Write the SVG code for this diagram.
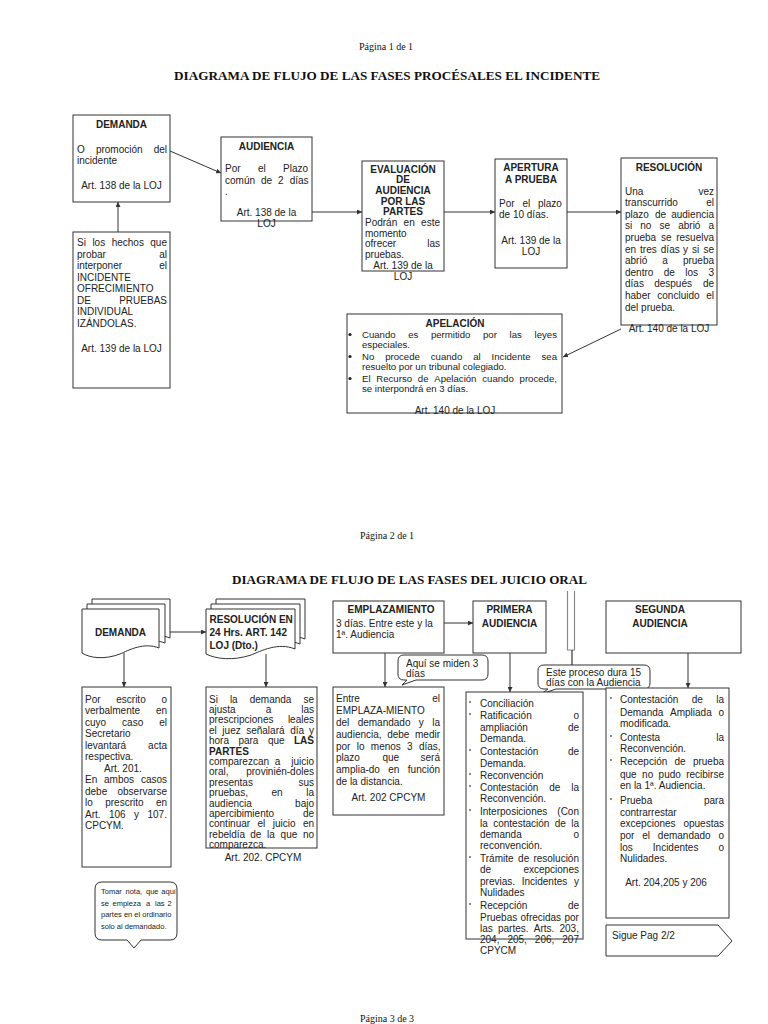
<svg xmlns="http://www.w3.org/2000/svg" width="768" height="1024" viewBox="0 0 768 1024">
<style>
.t{font-family:"Liberation Sans",Arial,sans-serif;font-size:10px;fill:#222}
.b{font-weight:bold}
.c{text-anchor:middle}
.ap{font-size:9.6px}
.nt{font-size:7.5px}
.box{fill:#fff;stroke:#333;stroke-width:1}
.ln{stroke:#333;stroke-width:1;fill:none}
.ttl{font-family:"Liberation Serif","Times New Roman",serif;font-weight:bold;font-size:13px;fill:#111}
.pg{font-family:"Liberation Serif","Times New Roman",serif;font-size:10px;fill:#111}
</style>
<defs>
<marker id="ah" viewBox="0 0 8 8" refX="8" refY="4" markerWidth="5" markerHeight="5" orient="auto" markerUnits="userSpaceOnUse"><path d="M0,0 L8,4 L0,8 z" fill="#333"/></marker>
</defs>
<rect width="768" height="1024" fill="#fff"/>

<text class="pg c" x="386" y="50">Página 1 de 1</text>
<text class="ttl" x="174" y="80" textLength="426" lengthAdjust="spacingAndGlyphs">DIAGRAMA DE FLUJO DE LAS FASES PROCÉSALES EL INCIDENTE</text>

<g id="connectors">
<line class="ln" x1="170" y1="151" x2="221" y2="173" marker-end="url(#ah)"/>
<line class="ln" x1="118" y1="232" x2="118" y2="202" marker-end="url(#ah)"/>
<line class="ln" x1="312" y1="212" x2="362" y2="212" marker-end="url(#ah)"/>
<line class="ln" x1="444" y1="212" x2="495" y2="212" marker-end="url(#ah)"/>
<line class="ln" x1="567" y1="212" x2="621" y2="212" marker-end="url(#ah)"/>
<line class="ln" x1="621" y1="329" x2="563" y2="357" marker-end="url(#ah)"/>
<line class="ln" x1="170" y1="632" x2="206" y2="632" marker-end="url(#ah)"/>
<line class="ln" x1="124" y1="653" x2="124" y2="687" marker-end="url(#ah)"/>
<line class="ln" x1="266" y1="654" x2="266" y2="687" marker-end="url(#ah)"/>
<line class="ln" x1="444" y1="623" x2="473" y2="623" marker-end="url(#ah)"/>
<line class="ln" x1="385" y1="653" x2="385" y2="687" marker-end="url(#ah)"/>
<line class="ln" x1="510" y1="653" x2="510" y2="692" marker-end="url(#ah)"/>
<line class="ln" x1="688" y1="653" x2="688" y2="688" marker-end="url(#ah)"/>
<line x1="567.5" y1="591" x2="567.5" y2="650" stroke="#888" stroke-width="1.2"/>
<line x1="574.5" y1="591" x2="574.5" y2="650" stroke="#888" stroke-width="1.2"/>
<line x1="567" y1="650" x2="575" y2="650" stroke="#888" stroke-width="1"/>
<line x1="572" y1="650" x2="572" y2="665" stroke="#333" stroke-width="1.2"/>
</g>

<g id="demanda1">
<rect class="box" x="73" y="115" width="97" height="87"/>
<text class="t b c" x="121.5" y="127.5">DEMANDA</text>
<text class="t" y="152.5"><tspan x="77">O</tspan><tspan x="95.9">promoción</tspan><tspan x="153.7">del</tspan></text>
<text class="t" x="77" y="163.5">incidente</text>
<text class="t c" x="121.5" y="188.5">Art. 138 de la LOJ</text>
</g>

<g id="hechos">
<rect class="box" x="73" y="232" width="97" height="156"/>
<text class="t" y="246"><tspan x="77">Si</tspan><tspan x="92.4">los</tspan><tspan x="111.7">hechos</tspan><tspan x="150.3">que</tspan></text>
<text class="t" y="257.5"><tspan x="77">probar</tspan><tspan x="159.2">al</tspan></text>
<text class="t" y="269"><tspan x="77">interponer</tspan><tspan x="159.2">el</tspan></text>
<text class="t" x="77" y="280.5">INCIDENTE</text>
<text class="t" x="77" y="292">OFRECIMIENTO</text>
<text class="t" y="303.5"><tspan x="77">DE</tspan><tspan x="119.2">PRUEBAS</tspan></text>
<text class="t" x="77" y="315">INDIVIDUAL</text>
<text class="t" x="77" y="326.5">IZÁNDOLAS.</text>
<text class="t c" x="121.5" y="351.5">Art. 139 de la LOJ</text>
</g>

<g id="audiencia1">
<rect class="box" x="221" y="137" width="91" height="84"/>
<text class="t b c" x="266.5" y="150">AUDIENCIA</text>
<text class="t" y="172"><tspan x="225">Por</tspan><tspan x="257.9">el</tspan><tspan x="283">Plazo</tspan></text>
<text class="t" y="183.5"><tspan x="225">común</tspan><tspan x="261">de</tspan><tspan x="278.1">2</tspan><tspan x="289.7">días</tspan></text>
<text class="t" x="225" y="195">.</text>
<text class="t c" x="266.5" y="216">Art. 138 de la</text>
<text class="t c" x="266.5" y="227">LOJ</text>
</g>

<g id="evaluacion">
<rect class="box" x="362" y="161" width="82" height="110"/>
<text class="t b c" x="403" y="172.5">EVALUACIÓN</text>
<text class="t b c" x="403" y="183.2">DE</text>
<text class="t b c" x="403" y="193.9">AUDIENCIA</text>
<text class="t b c" x="403" y="204.6">POR LAS</text>
<text class="t b c" x="403" y="215.3">PARTES</text>
<text class="t" y="226"><tspan x="365">Podrán</tspan><tspan x="403.6">en</tspan><tspan x="421.1">este</tspan></text>
<text class="t" x="365" y="236.7">momento</text>
<text class="t" y="247.4"><tspan x="365">ofrecer</tspan><tspan x="427.2">las</tspan></text>
<text class="t" x="365" y="258.1">pruebas.</text>
<text class="t c" x="403" y="268.8">Art. 139 de la</text>
<text class="t c" x="403" y="279.5">LOJ</text>
</g>

<g id="apertura">
<rect class="box" x="495" y="159" width="72" height="109"/>
<text class="t b c" x="531" y="171">APERTURA</text>
<text class="t b c" x="531" y="182.5">A PRUEBA</text>
<text class="t" y="206.5"><tspan x="499">Por</tspan><tspan x="522.4">el</tspan><tspan x="538">plazo</tspan></text>
<text class="t" x="499" y="218">de 10 días.</text>
<text class="t c" x="531" y="243.5">Art. 139 de la</text>
<text class="t c" x="531" y="255">LOJ</text>
</g>

<g id="resolucion1">
<rect class="box" x="621" y="158" width="96" height="167"/>
<text class="t b c" x="669" y="171">RESOLUCIÓN</text>
<text class="t" y="194.5"><tspan x="625">Una</tspan><tspan x="698.4">vez</tspan></text>
<text class="t" y="206.1"><tspan x="625">transcurrido</tspan><tspan x="706.2">el</tspan></text>
<text class="t" y="217.7"><tspan x="625">plazo</tspan><tspan x="655">de</tspan><tspan x="671.2">audiencia</tspan></text>
<text class="t" y="229.3"><tspan x="625">si</tspan><tspan x="640.3">no</tspan><tspan x="659.5">se</tspan><tspan x="678.2">abrió</tspan><tspan x="708.4">a</tspan></text>
<text class="t" y="240.9"><tspan x="625">prueba</tspan><tspan x="660.9">se</tspan><tspan x="676.2">resuelva</tspan></text>
<text class="t" y="252.5"><tspan x="625">en</tspan><tspan x="640.1">tres</tspan><tspan x="660.8">días</tspan><tspan x="683.1">y</tspan><tspan x="692.1">si</tspan><tspan x="703.4">se</tspan></text>
<text class="t" y="264.1"><tspan x="625">abrió</tspan><tspan x="662.2">a</tspan><tspan x="682.9">prueba</tspan></text>
<text class="t" y="275.7"><tspan x="625">dentro</tspan><tspan x="663.8">de</tspan><tspan x="685.3">los</tspan><tspan x="708.4">3</tspan></text>
<text class="t" y="287.3"><tspan x="625">días</tspan><tspan x="654.2">después</tspan><tspan x="702.9">de</tspan></text>
<text class="t" y="298.9"><tspan x="625">haber</tspan><tspan x="657.3">concluido</tspan><tspan x="706.2">el</tspan></text>
<text class="t" x="625" y="310.5">del prueba.</text>
<text class="t c" x="669" y="331.5">Art. 140 de la LOJ</text>
</g>

<g id="apelacion">
<rect class="box" x="347" y="314" width="215" height="99"/>
<text class="t b c" x="455" y="326.5">APELACIÓN</text>
<circle cx="350" cy="334.5" r="1.6" fill="#222"/>
<circle cx="350" cy="356.5" r="1.6" fill="#222"/>
<circle cx="350" cy="378.5" r="1.6" fill="#222"/>
<text class="t ap" y="337.5"><tspan x="362">Cuando</tspan><tspan x="408.2">es</tspan><tspan x="430.9">permitido</tspan><tspan x="483">por</tspan><tspan x="509.5">las</tspan><tspan x="534.6">leyes</tspan></text>
<text class="t ap" x="362" y="348">especiales.</text>
<text class="t ap" y="359.5"><tspan x="362">No</tspan><tspan x="385.2">procede</tspan><tspan x="430.8">cuando</tspan><tspan x="473.2">al</tspan><tspan x="491.6">Incidente</tspan><tspan x="541.5">sea</tspan></text>
<text class="t ap" x="362" y="370">resuelto por un tribunal colegiado.</text>
<text class="t ap" y="381.5"><tspan x="362">El</tspan><tspan x="376.3">Recurso</tspan><tspan x="417.8">de</tspan><tspan x="434.3">Apelación</tspan><tspan x="482.3">cuando</tspan><tspan x="519.6">procede,</tspan></text>
<text class="t ap" x="362" y="392">se interpondrá en 3 días.</text>
<text class="t c" x="455" y="413.5">Art. 140 de la LOJ</text>
</g>

<text class="pg c" x="387" y="539">Página 2 de 1</text>
<text class="ttl" x="232" y="584" textLength="355" lengthAdjust="spacingAndGlyphs">DIAGRAMA DE FLUJO DE LAS FASES DEL JUICIO ORAL</text>

<g id="demanda2">
<path class="box" d="M92,599 H170 V638 C155,632 140,640 131,644 C115,650 100,648 92,643 Z"/>
<path class="box" d="M87,604 H165 V643 C150,637 135,645 126,649 C110,655 95,653 87,648 Z"/>
<path class="box" d="M82,609 H159 V648 C144,642 129,650 120,654 C104,660 90,658 82,653 Z"/>
<text class="t b c" x="120.5" y="636">DEMANDA</text>
</g>

<g id="resolucion24">
<path class="box" d="M216,599 H305 V639 C288,632 271,641 261,645 C243,651 226,649 216,644 Z"/>
<path class="box" d="M211,604 H300 V644 C283,637 266,646 256,650 C238,656 221,654 211,649 Z"/>
<path class="box" d="M206,609 H295 V649 C278,642 261,651 251,655 C233,661 216,659 206,654 Z"/>
<text class="t b" x="209.5" y="623">RESOLUCIÓN EN</text>
<text class="t b" x="209.5" y="636">24 Hrs. ART. 142</text>
<text class="t b" x="209.5" y="649">LOJ (Dto.)</text>
</g>

<g id="escrito">
<rect class="box" x="82" y="687" width="89" height="180"/>
<text class="t" y="702.5"><tspan x="85">Por</tspan><tspan x="116.25">escrito</tspan><tspan x="161.4">o</tspan></text>
<text class="t" y="714"><tspan x="85">verbalmente</tspan><tspan x="155.9">en</tspan></text>
<text class="t" y="725.5"><tspan x="85">cuyo</tspan><tspan x="122.1">caso</tspan><tspan x="159.2">el</tspan></text>
<text class="t" x="85" y="737">Secretario</text>
<text class="t" y="748.5"><tspan x="85">levantará</tspan><tspan x="148.1">acta</tspan></text>
<text class="t" x="85" y="760">respectiva.</text>
<text class="t" x="104" y="771.5">Art. 201.</text>
<text class="t" y="783"><tspan x="85">En</tspan><tspan x="104.05">ambos</tspan><tspan x="140.9">casos</tspan></text>
<text class="t" y="794.5"><tspan x="85">debe</tspan><tspan x="117.5">observarse</tspan></text>
<text class="t" y="806"><tspan x="85">lo</tspan><tspan x="105.2">prescrito</tspan><tspan x="155.9">en</tspan></text>
<text class="t" y="817.5"><tspan x="85">Art.</tspan><tspan x="109">106</tspan><tspan x="134.1">y</tspan><tspan x="147.5">107.</tspan></text>
<text class="t" x="85" y="829">CPCYM.</text>
</g>

<g id="ajusta">
<rect class="box" x="206" y="687" width="111" height="161"/>
<text class="t" y="702.5"><tspan x="209">Si</tspan><tspan x="229.9">la</tspan><tspan x="249.7">demanda</tspan><tspan x="303.4">se</tspan></text>
<text class="t" y="712.9"><tspan x="209">ajusta</tspan><tspan x="265.65">a</tspan><tspan x="301.2">las</tspan></text>
<text class="t" y="723.3"><tspan x="209">prescripciones</tspan><tspan x="287.9">leales</tspan></text>
<text class="t" y="733.7"><tspan x="209">el</tspan><tspan x="222.35">juez</tspan><tspan x="246.2">señalará</tspan><tspan x="290.15">día</tspan><tspan x="309">y</tspan></text>
<text class="t" y="744.1"><tspan x="209">hora</tspan><tspan x="238.4">para</tspan><tspan x="267.9">que</tspan><tspan x="294" font-weight="bold">LAS</tspan></text>
<text class="t b" x="209" y="754.5">PARTES</text>
<text class="t" y="764.9"><tspan x="209">comparezcan</tspan><tspan x="274.8">a</tspan><tspan x="291.2">juicio</tspan></text>
<text class="t" y="775.3"><tspan x="209">oral,</tspan><tspan x="246.2">provinién-doles</tspan></text>
<text class="t" y="785.7"><tspan x="209">presentas</tspan><tspan x="298.4">sus</tspan></text>
<text class="t" y="796.1"><tspan x="209">pruebas,</tspan><tspan x="271.5">en</tspan><tspan x="306.2">la</tspan></text>
<text class="t" y="806.5"><tspan x="209">audiencia</tspan><tspan x="295.1">bajo</tspan></text>
<text class="t" y="816.9"><tspan x="209">apercibimiento</tspan><tspan x="302.9">de</tspan></text>
<text class="t" y="827.3"><tspan x="209">continuar</tspan><tspan x="257.5">el</tspan><tspan x="272.7">juicio</tspan><tspan x="302.9">en</tspan></text>
<text class="t" y="837.7"><tspan x="209">rebeldía</tspan><tspan x="250.3">de</tspan><tspan x="267.1">la</tspan><tspan x="280.6">que</tspan><tspan x="302.9">no</tspan></text>
<text class="t" x="209" y="848.1">comparezca.</text>
<text class="t c" x="263" y="861">Art. 202. CPCYM</text>
</g>

<g id="nota">
<path class="box" d="M102,882 H170 Q177,882 177,889 V933 Q177,940 170,940 H141 L134,948 L127,940 H102 Q95,940 95,933 V889 Q95,882 102,882 Z"/>
<text class="t nt" y="894"><tspan x="101">Tomar</tspan><tspan x="125.5">nota,</tspan><tspan x="146">que</tspan><tspan x="161.3">aquí</tspan></text>
<text class="t nt" y="905.5"><tspan x="101">se</tspan><tspan x="112.5">empieza</tspan><tspan x="146">a</tspan><tspan x="155">las</tspan><tspan x="167.6">2</tspan></text>
<text class="t nt" x="101" y="917">partes en el ordinario</text>
<text class="t nt" x="101" y="928.5">solo al demandado.</text>
</g>

<g id="emplazamiento">
<rect class="box" x="333" y="601" width="111" height="52"/>
<text class="t b c" x="391" y="612.5">EMPLAZAMIENTO</text>
<text class="t" x="336" y="626.5">3 días. Entre este y la</text>
<text class="t" x="336" y="637.5">1ª. Audiencia</text>
</g>

<g id="primera">
<rect class="box" x="473" y="601" width="73" height="52"/>
<text class="t b c" x="509.5" y="612.5">PRIMERA</text>
<text class="t b c" x="509.5" y="626.5">AUDIENCIA</text>
</g>

<g id="segunda">
<rect class="box" x="606" y="601" width="135" height="52"/>
<text class="t b c" x="660" y="612.5">SEGUNDA</text>
<text class="t b c" x="660" y="626.5">AUDIENCIA</text>
</g>

<g id="nota-miden">
<path class="box" d="M404,655 H482 Q488,655 488,661 V674 Q488,680 482,680 H416 L402,685 L407,680 H404 Q398,680 398,674 V661 Q398,655 404,655 Z"/>
<text class="t" x="406" y="666.5">Aquí se miden 3</text>
<text class="t" x="406" y="677">días</text>
</g>

<g id="nota-proceso">
<path class="box" d="M544,665 H644 Q650,665 650,671 V683 Q650,689 644,689 H556 L541,694 L548,689 H544 Q538,689 538,683 V671 Q538,665 544,665 Z"/>
<text class="t" x="546" y="675.5">Este proceso dura 15</text>
<text class="t" x="546" y="685.5">días con la Audiencia</text>
</g>

<g id="emplaz-detalle">
<rect class="box" x="333" y="687" width="111" height="128"/>
<text class="t" y="701.5"><tspan x="336">Entre</tspan><tspan x="432.2">el</tspan></text>
<text class="t" x="336" y="713.5">EMPLAZA-MIENTO</text>
<text class="t" y="725.5"><tspan x="336">del</tspan><tspan x="357.67">demandado</tspan><tspan x="418.84">y</tspan><tspan x="432.2">la</tspan></text>
<text class="t" y="737.5"><tspan x="336">audiencia,</tspan><tspan x="387.2">debe</tspan><tspan x="415">medir</tspan></text>
<text class="t" y="749.5"><tspan x="336">por</tspan><tspan x="356.75">lo</tspan><tspan x="370.8">menos</tspan><tspan x="407.05">3</tspan><tspan x="418.9">días,</tspan></text>
<text class="t" y="760.5"><tspan x="336">plazo</tspan><tspan x="382.4">que</tspan><tspan x="420.5">será</tspan></text>
<text class="t" y="772.5"><tspan x="336">amplia-do</tspan><tspan x="388.3">en</tspan><tspan x="407.8">función</tspan></text>
<text class="t" x="336" y="784.5">de la distancia.</text>
<text class="t c" x="388.5" y="800.5">Art. 202 CPCYM</text>
</g>

<g id="primera-detalle">
<rect class="box" x="466" y="692" width="117" height="247"/>
<g fill="#555">
<circle cx="470" cy="702" r="0.9"/><circle cx="470" cy="714" r="0.9"/><circle cx="470" cy="750" r="0.9"/>
<circle cx="470" cy="774" r="0.9"/><circle cx="470" cy="786" r="0.9"/><circle cx="470" cy="810" r="0.9"/>
<circle cx="470" cy="857" r="0.9"/><circle cx="470" cy="904" r="0.9"/>
</g>
<text class="t" x="480" y="706.5">Conciliación</text>
<text class="t" y="718.5"><tspan x="480">Ratificación</tspan><tspan x="573.4">o</tspan></text>
<text class="t" y="730.5"><tspan x="480">ampliación</tspan><tspan x="567.9">de</tspan></text>
<text class="t" x="480" y="741.5">Demanda.</text>
<text class="t" y="754.5"><tspan x="480">Contestación</tspan><tspan x="567.9">de</tspan></text>
<text class="t" x="480" y="766.5">Demanda.</text>
<text class="t" x="480" y="778.5">Reconvención</text>
<text class="t" y="790.5"><tspan x="480">Contestación</tspan><tspan x="549.25">de</tspan><tspan x="571.2">la</tspan></text>
<text class="t" x="480" y="801.5">Reconvención.</text>
<text class="t" y="814.5"><tspan x="480">Interposiciones</tspan><tspan x="557.3">(Con</tspan></text>
<text class="t" y="826.5"><tspan x="480">la</tspan><tspan x="493.2">contestación</tspan><tspan x="554.7">de</tspan><tspan x="571.2">la</tspan></text>
<text class="t" y="837.5"><tspan x="480">demanda</tspan><tspan x="573.4">o</tspan></text>
<text class="t" x="480" y="848.5">reconvención.</text>
<text class="t" y="861.5"><tspan x="480">Trámite</tspan><tspan x="518.1">de</tspan><tspan x="533.4">resolución</tspan></text>
<text class="t" y="872.5"><tspan x="480">de</tspan><tspan x="523.4">excepciones</tspan></text>
<text class="t" y="884.5"><tspan x="480">previas.</tspan><tspan x="521.7">Incidentes</tspan><tspan x="574">y</tspan></text>
<text class="t" x="480" y="895.5">Nulidades</text>
<text class="t" y="908.5"><tspan x="480">Recepción</tspan><tspan x="567.9">de</tspan></text>
<text class="t" y="920.5"><tspan x="480">Pruebas</tspan><tspan x="520.55">ofrecidas</tspan><tspan x="564.5">por</tspan></text>
<text class="t" y="931.5"><tspan x="480">las</tspan><tspan x="497.97">partes.</tspan><tspan x="533.74">Arts.</tspan><tspan x="559.5">203,</tspan></text>
<text class="t" y="942.5"><tspan x="480">204,</tspan><tspan x="507.43">205,</tspan><tspan x="534.86">206,</tspan><tspan x="562.3">207</tspan></text>
<text class="t" x="480" y="953.5">CPYCM</text>
</g>

<g id="segunda-detalle">
<rect class="box" x="606" y="688" width="123" height="230"/>
<g fill="#555">
<circle cx="611" cy="698" r="0.9"/><circle cx="611" cy="736" r="0.9"/><circle cx="611" cy="760" r="0.9"/><circle cx="611" cy="799" r="0.9"/>
</g>
<text class="t" y="702.5"><tspan x="620">Contestación</tspan><tspan x="691.75">de</tspan><tspan x="716.2">la</tspan></text>
<text class="t" y="715.5"><tspan x="620">Demanda</tspan><tspan x="670.05">Ampliada</tspan><tspan x="718.4">o</tspan></text>
<text class="t" x="620" y="726.5">modificada.</text>
<text class="t" y="740.5"><tspan x="620">Contesta</tspan><tspan x="716.2">la</tspan></text>
<text class="t" x="620" y="751.5">Reconvención.</text>
<text class="t" y="764.5"><tspan x="620">Recepción</tspan><tspan x="674.5">de</tspan><tspan x="692.9">prueba</tspan></text>
<text class="t" y="777.5"><tspan x="620">que</tspan><tspan x="642.1">no</tspan><tspan x="658.6">pudo</tspan><tspan x="686.2">recibirse</tspan></text>
<text class="t" x="620" y="788.5">en la 1ª. Audiencia.</text>
<text class="t" y="803.5"><tspan x="620">Prueba</tspan><tspan x="704">para</tspan></text>
<text class="t" x="620" y="815.5">contrarrestar</text>
<text class="t" y="826.5"><tspan x="620">excepciones</tspan><tspan x="683.4">opuestas</tspan></text>
<text class="t" y="838.5"><tspan x="620">por</tspan><tspan x="642.27">el</tspan><tspan x="657.84">demandado</tspan><tspan x="718.4">o</tspan></text>
<text class="t" y="850.5"><tspan x="620">los</tspan><tspan x="652.8">Incidentes</tspan><tspan x="718.4">o</tspan></text>
<text class="t" x="620" y="861.5">Nulidades.</text>
<text class="t c" x="666" y="885.5">Art. 204,205 y 206</text>
</g>

<g id="sigue">
<path class="box" d="M606,925 H718 L732,941 L718,956 H606 Z"/>
<text class="t" x="612" y="938.5">Sigue Pag 2/2</text>
</g>

<text class="pg c" x="387" y="1022">Página 3 de 3</text>
</svg>
